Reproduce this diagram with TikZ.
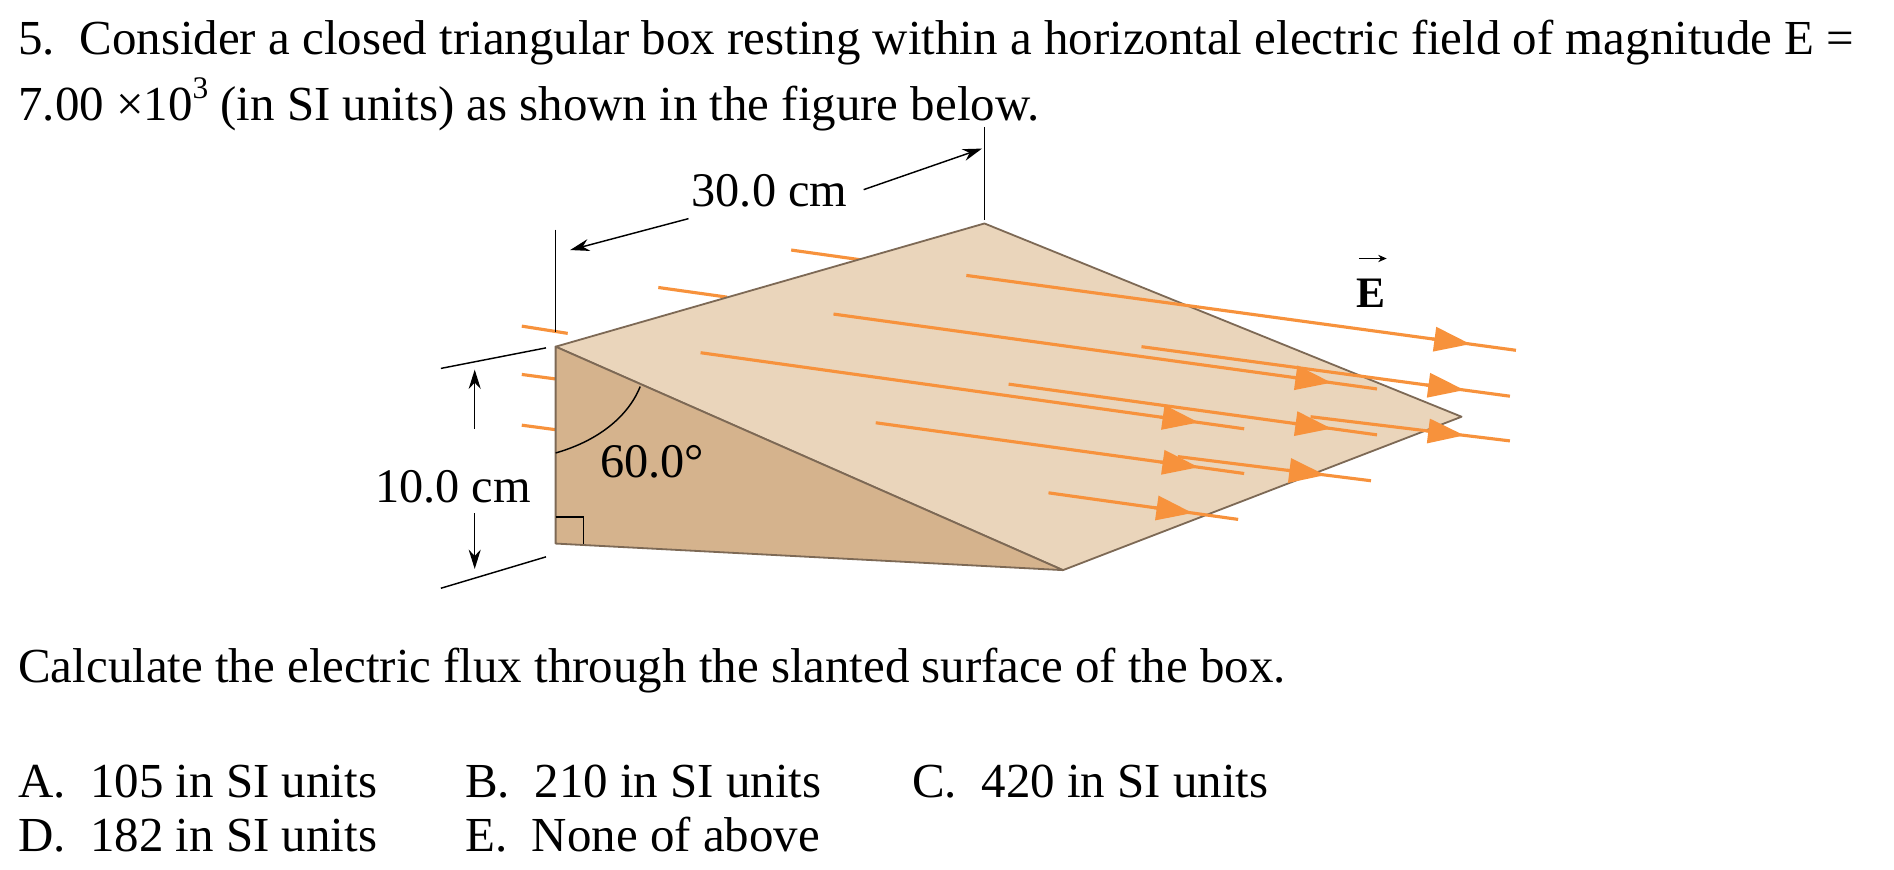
\documentclass[tikz,border=0pt]{standalone}
\usepackage{fontspec}
\setmainfont{Liberation Serif}
\usetikzlibrary{arrows.meta,calc}
\definecolor{fld}{RGB}{247,146,60}
\definecolor{facelt}{RGB}{234,213,187}
\definecolor{facedk}{RGB}{213,179,141}
\definecolor{edgec}{RGB}{125,105,85}
\begin{document}
\begin{tikzpicture}[x=1pt,y=-1pt,
  txt/.style={font=\fontsize{40.5}{48}\selectfont,anchor=base west,inner sep=0},
  lab/.style={font=\fontsize{40}{46}\selectfont,inner sep=0},
  fl/.style={draw=fld,line width=2.6pt},
  dim/.style={draw=black,line width=1.2pt},
  dima/.style={dim,-{Stealth[length=16pt,width=10pt]}}]
\useasboundingbox (0,0) rectangle (1568,720);
\fill[white] (0,0) rectangle (1568,720);
% text
\node[txt] (t1) at (15,45) {5.\ \ Consider a closed triangular box resting within a horizontal electric field of magnitude E =};
\node[txt] (t2) at (15,100) {7.00 ×10\raisebox{0.45em}{\fontsize{26}{30}\selectfont 3} (in SI units) as shown in the figure below.};
\node[txt] (t3) at (15,565) {Calculate the electric flux through the slanted surface of the box.};
\node[txt] (a) at (15,660) {A.\ \ 105 in SI units};
\node[txt] (b) at (385,660) {B.\ \ 210 in SI units};
\node[txt] (c) at (755,660) {C.\ \ 420 in SI units};
\node[txt] (d) at (15,705) {D.\ \ 182 in SI units};
\node[txt] (e) at (385,705) {E.\ \ None of above};
% field line stubs behind box
\draw[fl] (655,207) -- (712,215);
\draw[fl] (545,238) -- (602,246);
\draw[fl] (432,270) -- (470,276);
\draw[fl] (432,310) -- (462,314);
\draw[fl] (432,352) -- (462,356);
% box
\coordinate (A) at (460,287);
\coordinate (B) at (460,450);
\coordinate (C) at (880,472);
\coordinate (D) at (815,185);
\coordinate (E) at (1210,345);
\filldraw[fill=facelt,draw=edgec,line width=1.5pt,line join=round] (A) -- (D) -- (E) -- (C) -- cycle;
\filldraw[fill=facedk,draw=edgec,line width=1.5pt,line join=round] (A) -- (B) -- (C) -- cycle;
% right angle and angle arc
\draw[black,line width=1.2pt] (460,428) -- (483,428) -- (483,450);
\draw[black,line width=1.2pt] (460,375) .. controls (495,365) and (520,345) .. (530,320);
\node[lab] (ang) at (540,382) {60.0°};
% dimensions
\draw[dim] (460,190) -- (460,275);
\draw[dim] (815,105) -- (815,182);
\draw[dima] (570,181) -- (472,207);
\draw[dima] (715,157) -- (813,123);
\node[lab] (l30) at (637,158) {30.0 cm};
\draw[dim] (365,305) -- (452,288);
\draw[dim] (365,487) -- (452,461);
\draw[dima] (393,355) -- (393,306);
\draw[dima] (393,425) -- (393,471);
\node[lab] (l10) at (375,403) {10.0 cm};
% E vector label
\node[lab,font=\fontsize{36}{40}\selectfont\bfseries] (Ev) at (1135,243) {E};
\draw[black,line width=1.2pt,-{Stealth[length=7pt,width=6pt]}] (1125,214) -- (1148,214);
% field lines with mid arrows
\foreach \sx/\sy/\ex/\ey in {800/228/1255/290, 690/260/1140/322, 945/287/1250/328,
  580/292/1030/355, 835/318/1140/360, 1085/345/1250/365,
  725/350/1030/392, 975/378/1135/398, 868/408/1025/430}{
  \draw[fl] (\sx,\sy) -- (\ex,\ey);
  \draw[fl,-{Triangle[length=30pt,width=20pt]}] ($(\ex,\ey)!70pt!(\sx,\sy)$) -- ($(\ex,\ey)!38pt!(\sx,\sy)$);
}
\end{tikzpicture}
\end{document}
